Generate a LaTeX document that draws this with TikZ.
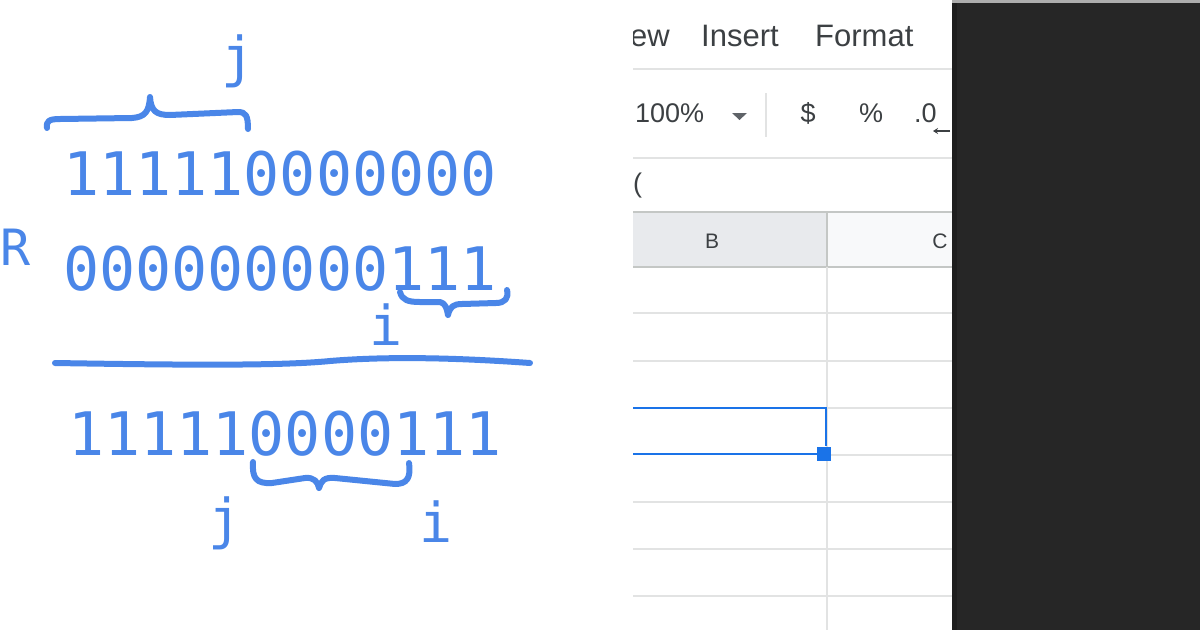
\documentclass[tikz,border=0pt]{standalone}
\usepackage{fontspec}
\usetikzlibrary{arrows.meta}
\setmainfont{Liberation Sans}
\newfontfamily\handfont{DejaVu Sans Mono}
\newfontfamily\uifont{Liberation Sans}
\definecolor{ink}{HTML}{4A86E8}
\definecolor{uitext}{HTML}{3C4043}
\definecolor{uigray}{HTML}{5F6368}
\definecolor{gridline}{HTML}{E2E3E3}
\definecolor{headB}{HTML}{E8EAED}
\definecolor{headC}{HTML}{F8F9FA}
\definecolor{headline}{HTML}{C4C7C5}
\definecolor{selblue}{HTML}{1A73E8}
\definecolor{darkpanel}{HTML}{262626}
\definecolor{darkedge}{HTML}{1E1E1E}
\tikzset{
  digits/.style={inner sep=0pt, text=ink, font=\handfont\fontsize{60}{60}\selectfont},
  letter/.style={inner sep=0pt, text=ink, font=\handfont\fontsize{55}{55}\selectfont},
  penstroke/.style={draw=ink, line width=6pt, line cap=round, line join=round},
  uilabel/.style={inner sep=0pt, text=uitext, font=\uifont\fontsize{31}{31}\selectfont},
  tbar/.style={inner sep=0pt, text=uitext, font=\uifont\fontsize{27}{27}\selectfont},
  colhead/.style={inner sep=0pt, text=uitext, font=\uifont\fontsize{21}{21}\selectfont},
  grid/.style={draw=gridline, line width=1.5pt},
  sel/.style={draw=selblue, line width=2.5pt}
}
\begin{document}
\begin{tikzpicture}[x=1pt,y=-1pt]
\useasboundingbox (0,0) rectangle (1200,630);
\fill[white] (0,0) rectangle (1200,630);

% ---------- handwritten part ----------
\node[letter, anchor=base] (jtop) at (238,76) {j};
\draw[penstroke] (47,128) .. controls (46,121) and (49,119) .. (60,119)
  -- (132,118) .. controls (145,117) and (149,112) .. (150,97)
  .. controls (151,111) and (156,115) .. (170,115)
  -- (238,112) .. controls (246,112) and (248,116) .. (248,129);
\node[digits, anchor=base] (row1) at (280,195) {111110000000};
\node[letter, anchor=base west, font=\handfont\fontsize{50}{50}\selectfont] (rlab) at (0,265) {R};
\node[digits, anchor=base] (row2) at (280,290) {000000000111};
\draw[penstroke] (400,292) .. controls (402,300) and (408,302) .. (420,302)
  -- (440,302) .. controls (445,303) and (447,308) .. (448,315)
  .. controls (450,307) and (453,304) .. (462,304)
  -- (496,303) .. controls (505,303) and (509,298) .. (507,290);
\node[letter, anchor=base] (imid) at (386,345) {i};
\draw[penstroke] (55,363) .. controls (180,365) and (280,366) .. (330,361)
  .. controls (390,356) and (460,358) .. (530,363);
\node[digits, anchor=base] (row3) at (285,455) {111110000111};
\draw[penstroke] (253,462) .. controls (252,478) and (256,484) .. (272,483)
  -- (305,478) .. controls (314,477) and (318,482) .. (319,488)
  .. controls (321,481) and (324,477) .. (335,478)
  -- (395,484) .. controls (407,484) and (411,478) .. (409,463);
\node[letter, anchor=base] (jbot) at (225,538) {j};
\node[letter, anchor=base] (ibot) at (436,542) {i};

% ---------- spreadsheet part ----------
\begin{scope}
\clip (633,0) rectangle (952,630);
\fill[headB] (633,212) rectangle (827,267);
\fill[headC] (827,212) rectangle (952,267);
\draw[grid] (633,69) -- (952,69);
\draw[grid] (633,158) -- (952,158);
\draw[draw=headline, line width=2pt] (633,212) -- (952,212);
\draw[draw=headline, line width=2pt] (633,267) -- (952,267);
\draw[draw=headline, line width=1.5pt] (827,212) -- (827,267);
\draw[grid] (827,267) -- (827,630);
\foreach \yy in {313,361,502,549,596} \draw[grid] (633,\yy) -- (952,\yy);
\draw[grid] (827,408) -- (952,408);
\draw[grid] (827,455) -- (952,455);
\node[uilabel, anchor=base west] (mview) at (630,46) {ew};
\node[uilabel, anchor=base west] (minsert) at (701,46) {Insert};
\node[uilabel, anchor=base west] (mformat) at (815,46) {Format};
\node[tbar, anchor=base west] (zoomtxt) at (635,122) {100\%};
\fill[uigray] (732,113) -- (747,113) -- (739.5,120) -- cycle;
\draw[draw=gridline, line width=1.5pt] (766,93) -- (766,137);
\node[tbar, anchor=base] (dollar) at (808,122) {\$};
\node[tbar, anchor=base] (pct) at (871,122) {\%};
\node[tbar, anchor=base west] (dec) at (914,122) {.0};
\draw[draw=uitext, line width=2pt, -{Stealth[length=5pt,width=6pt]}] (950,131) -- (933,131);
\node[tbar, anchor=base west] (fx) at (633,192) {(};
\node[colhead, anchor=base] (colB) at (712,248) {B};
\node[colhead, anchor=base] (colC) at (940,248) {C};
\draw[sel] (633,408) -- (826,408) -- (826,446);
\draw[sel] (633,454) -- (817,454);
\fill[selblue] (817,447) rectangle (831,461);
\end{scope}

% ---------- dark panel ----------
\fill[darkpanel] (952,0) rectangle (1200,630);
\fill[darkedge] (952,0) rectangle (957,630);
\fill[black!32] (952,0) rectangle (1200,3);
\end{tikzpicture}
\end{document}
